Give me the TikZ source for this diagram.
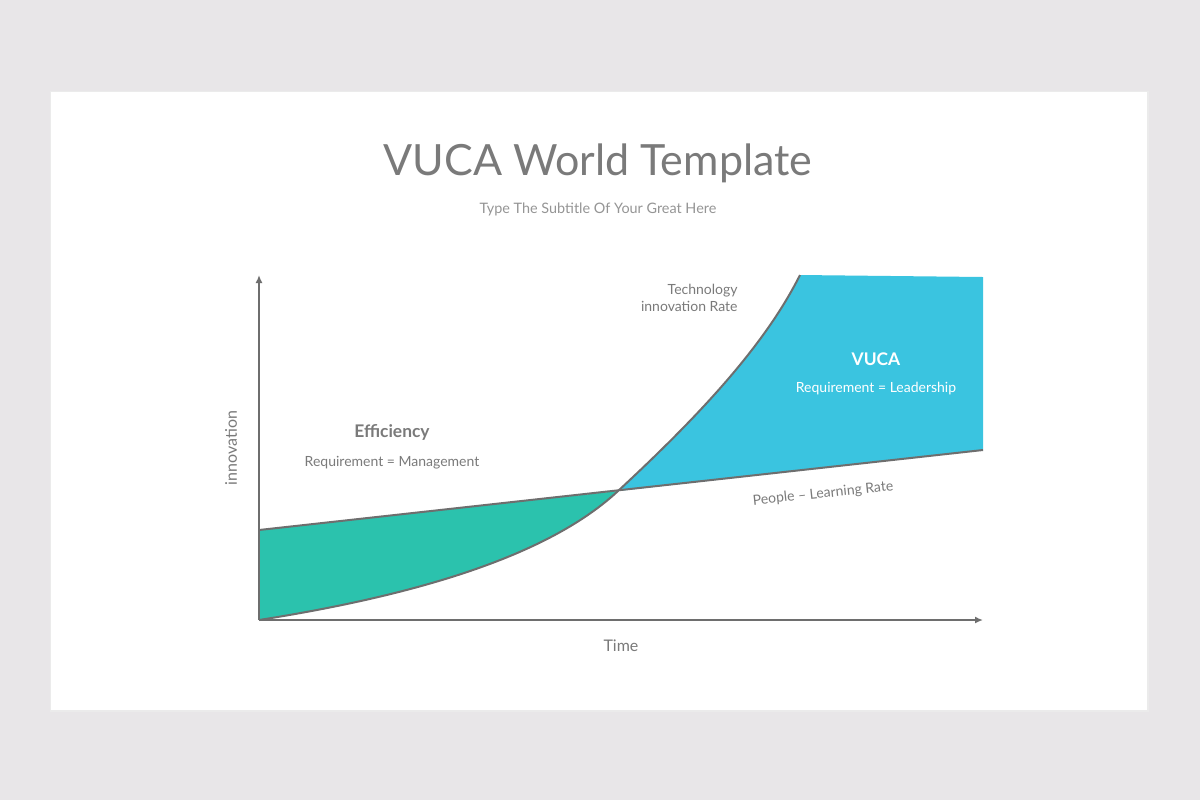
\documentclass[tikz,border=0pt]{standalone}
\usepackage{fontspec}
\setmainfont{Lato}
\definecolor{bg}{HTML}{E8E6E8}
\definecolor{tx}{HTML}{7A7A7A}
\definecolor{ln}{HTML}{6E6E6E}
\definecolor{gr}{HTML}{2BC2AD}
\definecolor{bl}{HTML}{3AC4E0}
\begin{document}
\begin{tikzpicture}[x=0.5pt,y=-0.5pt,
  lbl/.style={text=tx,font=\fontsize{7}{8.5}\selectfont,align=center,inner sep=0},
  axis/.style={ln,line width=0.8pt,-{Latex[length=4pt,width=3.5pt]}}]
\usetikzlibrary{arrows.meta}
\fill[bg] (0,0) rectangle (1200,800);
\useasboundingbox (0,0) rectangle (1200,800);
\fill[black!8] (50,91) rectangle (1149,712);
\fill[white] (51,92) rectangle (1147,710);
\node[text=tx,font=\fontsize{21.5}{24}\selectfont] (title) at (598,163) {VUCA World Template};
\node[text=tx!80,font=\fontsize{7.2}{9}\selectfont] (sub) at (598,209) {Type The Subtitle Of Your Great Here};
\coordinate (o) at (259,620);
\coordinate (x) at (983,620);
\coordinate (y) at (259,275);
\coordinate (p0) at (259,530);
\coordinate (c) at (618,491);
\coordinate (p1) at (983,450);
\coordinate (t1) at (800,275);
\coordinate (t2) at (983,277);
\fill[gr] (o) .. controls (450,590) and (560,545) .. (c) -- (p0) -- cycle;
\fill[bl] (c) .. controls (700,415) and (765,345) .. (t1) -- (t2) -- (p1) -- cycle;
\draw[ln,line width=1pt] (o) .. controls (450,590) and (560,545) .. (c) .. controls (700,415) and (765,345) .. (t1);
\draw[ln,line width=1pt] (p0) -- (p1);
\draw[axis] (o) -- (x);
\draw[axis] (o) -- (y);
\node[lbl,font=\fontsize{8}{9}\selectfont] (time) at (621,646) {Time};
\node[lbl,font=\fontsize{8}{9}\selectfont,rotate=90] (inn) at (231,448) {innovation};
\node[lbl,align=right,anchor=east] (tech) at (738,298) {Technology\\innovation Rate};
\node[lbl,rotate=6] (peo) at (823,494) {People -- Learning Rate};
\node[lbl,font=\bfseries\fontsize{8.7}{10}\selectfont] (eff) at (392,432) {Efficiency};
\node[lbl] (effr) at (392,463) {Requirement = Management};
\node[lbl,text=white,font=\bfseries\fontsize{8.7}{10}\selectfont] (vuca) at (876,359) {VUCA};
\node[lbl,text=white] (vucar) at (876,389) {Requirement = Leadership};
\end{tikzpicture}
\end{document}
